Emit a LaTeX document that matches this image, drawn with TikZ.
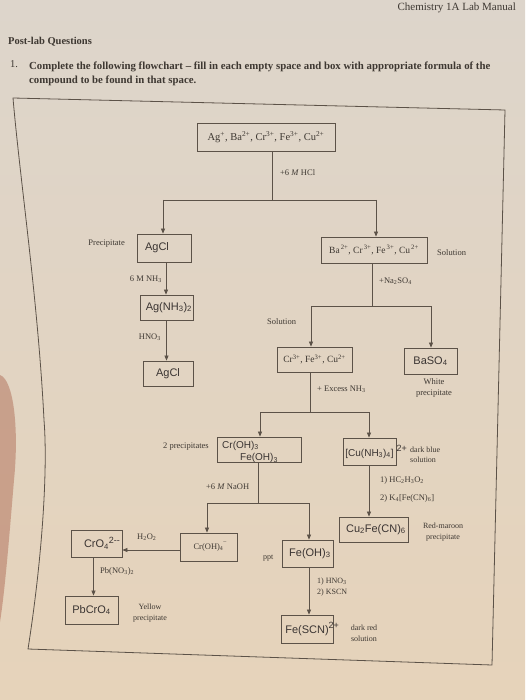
\documentclass[tikz,border=0pt]{standalone}
\usepackage{fontspec}
\setmainfont{Liberation Serif}
\newfontfamily\hw{Liberation Sans}
\usetikzlibrary{arrows.meta,calc}
\definecolor{paperhi}{RGB}{221,213,203}
\definecolor{paperlo}{RGB}{230,211,186}
\definecolor{ink}{RGB}{62,56,50}
\definecolor{lin}{RGB}{92,82,72}
\definecolor{pen}{RGB}{58,52,50}
\definecolor{finger}{RGB}{180,118,96}
\begin{document}
\begin{tikzpicture}[x=1pt,y=-1pt,
  box/.style={draw=lin, line width=0.8pt, inner sep=0pt},
  hand/.style={text=pen, font=\hw\fontsize{11}{12}\selectfont},
  prt/.style={text=ink, font=\fontsize{10.5}{12}\selectfont},
  lbl/.style={text=ink, font=\fontsize{8.5}{10.5}\selectfont, inner sep=0pt, align=left},
  clbl/.style={text=ink, font=\fontsize{8.5}{10.5}\selectfont, inner sep=0pt, align=center},
  ln/.style={draw=lin, line width=0.7pt},
  arr/.style={draw=lin, line width=0.7pt, -{Triangle[length=5pt,width=4pt]}}]
% paper
\useasboundingbox (0,0) rectangle (525,700);
\shade[top color=paperhi, bottom color=paperlo] (0,0) rectangle (525,700);
\fill[finger, opacity=0.55] (0,375) .. controls (14,380) and (19,430) .. (14,480) .. controls (9,540) and (5,590) .. (0,622) -- cycle;
% header
\node[anchor=east, text=ink, font=\fontsize{11}{12}\selectfont, inner sep=0pt] (hdr) at (516,8) {Chemistry 1A Lab Manual};
\node[anchor=west, text=ink, font=\bfseries\fontsize{10.5}{12}\selectfont, inner sep=0pt] (pq) at (8,42) {Post-lab Questions};
\node[anchor=west, text=ink, font=\fontsize{10.5}{12}\selectfont, inner sep=0pt] (qn) at (10,64) {1.};
\node[anchor=west, text=ink, font=\bfseries\fontsize{10.8}{12}\selectfont, inner sep=0pt] (qt1) at (29,67)
  {Complete the following flowchart -- fill in each empty space and box with appropriate formula of the};
\node[anchor=west, text=ink, font=\bfseries\fontsize{10.8}{12}\selectfont, inner sep=0pt] (qt2) at (29,81)
  {compound to be found in that space.};
% frame
\draw[lin, line width=0.8pt] (13,98) -- (505,110) -- (492,665) -- (28,649)
  .. controls (42,560) and (48,470) .. (44,420) .. controls (38,300) and (20,180) .. (13,98) -- cycle;
% boxes
\node[box, prt, minimum width=138pt, minimum height=28pt] (top) at (266,137)
  {Ag\textsuperscript{+}, Ba\textsuperscript{2+}, Cr\textsuperscript{3+}, Fe\textsuperscript{3+}, Cu\textsuperscript{2+}};
\node[box, hand, minimum width=54pt, minimum height=28pt] (agcl1) at (164,248) {\hspace*{-14pt}AgCl};
\node[box, hand, minimum width=53pt, minimum height=25pt] (agnh) at (166.5,307.5) {Ag(NH\textsubscript{3})\rlap{\textsubscript{2}}};
\node[box, hand, minimum width=50pt, minimum height=25pt] (agcl2) at (168,373.5) {AgCl};
\node[box, prt, font=\fontsize{9.5}{11}\selectfont, minimum width=106pt, minimum height=26pt] (ba) at (374,250)
  {Ba\textsuperscript{\,2+}, Cr\textsuperscript{\,3+}, Fe\textsuperscript{\,3+}, Cu\textsuperscript{\,2+}};
\node[box, prt, font=\fontsize{9.5}{11}\selectfont, minimum width=75pt, minimum height=25pt] (crfecu) at (314.5,359.5)
  {Cr\textsuperscript{3+}, Fe\textsuperscript{3+}, Cu\textsuperscript{2+}};
\node[box, hand, minimum width=53pt, minimum height=26pt] (baso4) at (430.5,361) {BaSO\textsubscript{4}};
\node[box, minimum width=84pt, minimum height=25pt] (croh3) at (259,449.5) {};
\node[hand, font=\hw\fontsize{10}{11}\selectfont, anchor=west, inner sep=0pt] (croh3a) at (222,445.5) {Cr(OH)\textsubscript{3}};
\node[hand, font=\hw\fontsize{10}{11}\selectfont, anchor=west, inner sep=0pt] (croh3b) at (240,458) {Fe(OH)\textsubscript{3}};
\node[box, hand, font=\hw\fontsize{10}{12}\selectfont, minimum width=53pt, minimum height=27pt] (cunh) at (369.5,451.5)
  {[Cu(NH\textsubscript{3})\textsubscript{4}]\rlap{\raisebox{5pt}{\fontsize{9}{10}\selectfont\hspace{3pt}2+}}};
\node[box, hand, minimum width=69pt, minimum height=25pt] (cufe) at (373.5,529.5) {Cu\textsubscript{2}Fe(CN)\rlap{\textsubscript{6}}};
\node[box, prt, font=\fontsize{8.5}{10}\selectfont, minimum width=57pt, minimum height=28pt] (croh4) at (208.5,547) {Cr(OH)\textsubscript{4}\rlap{\raisebox{3pt}{\textsuperscript{--}}}};
\node[box, hand, minimum width=51pt, minimum height=27pt] (feoh) at (307.5,553.5) {Fe(OH)\rlap{\textsubscript{3}}};
\node[box, hand, minimum width=51pt, minimum height=27pt] (cro4) at (96.5,543.5) {CrO\textsubscript{4}\rlap{\raisebox{4pt}{\fontsize{9}{10}\selectfont 2--}}};
\node[box, hand, minimum width=53pt, minimum height=28pt] (pbcro4) at (91.5,610) {PbCrO\textsubscript{4}};
\node[box, hand, minimum width=52pt, minimum height=28pt] (fescn) at (307,629) {Fe(SCN)\rlap{\raisebox{5pt}{\fontsize{9}{10}\selectfont 2+}}};
% junctions
\coordinate (j1) at (272,200); \coordinate (j1l) at (163,200); \coordinate (j1r) at (376,200);
\coordinate (j2) at (372,306); \coordinate (j2l) at (311,306); \coordinate (j2r) at (431,306);
\coordinate (j3) at (310,412); \coordinate (j3l) at (260,412); \coordinate (j3r) at (369,412);
\coordinate (j4) at (258,503); \coordinate (j4l) at (207,503); \coordinate (j4r) at (309,503);
% connectors
\draw[ln] (top.south -| j1) -- (j1);
\draw[ln] (j1l) -- (j1r);
\draw[arr] (j1l) -- (agcl1.north -| j1l);
\draw[arr] (j1r) -- (ba.north -| j1r);
\draw[arr] ([xshift=2pt]agcl1.south) -- ([xshift=2pt]agcl1.south |- agnh.north);
\draw[arr] (agnh.south) -- (agnh.south |- agcl2.north);
\draw[ln] (ba.south -| j2) -- (j2);
\draw[ln] (j2l) -- (j2r);
\draw[arr] (j2l) -- (crfecu.north -| j2l);
\draw[arr] (j2r) -- (baso4.north -| j2r);
\draw[ln] (crfecu.south -| j3) -- (j3);
\draw[ln] (j3l) -- (j3r);
\draw[arr] (j3l) -- (croh3.north -| j3l);
\draw[arr] (j3r) -- (cunh.north -| j3r);
\draw[ln] (croh3.south -| j4) -- (j4);
\draw[ln] (j4l) -- (j4r);
\draw[arr] (j4l) -- (croh4.north -| j4l);
\draw[arr] (j4r) -- (feoh.north -| j4r);
\draw[arr] (cunh.south -| j3r) -- (cufe.north -| j3r);
\draw[arr] ([yshift=-3pt]croh4.west) -- ([yshift=-3pt]croh4.west -| cro4.east);
\draw[arr] ([xshift=-3pt]cro4.south) -- ([xshift=-3pt]cro4.south |- pbcro4.north);
\draw[arr] (feoh.south -| j4r) -- (fescn.north -| j4r);
% labels
\node[lbl, anchor=west] (l1) at (280,173) {+6 \textit{M} HCl};
\node[lbl, anchor=east] (l2) at (125,244) {Precipitate};
\node[lbl, anchor=west] (l3) at (437,253) {Solution};
\node[lbl, anchor=east] (l4) at (162,279) {6 M NH\textsubscript{3}};
\node[lbl, anchor=east] (l5) at (161,337) {HNO\textsubscript{3}};
\node[lbl, anchor=west] (l6) at (379,281) {+Na\textsubscript{2}SO\textsubscript{4}};
\node[lbl, anchor=west] (l7) at (267,322) {Solution};
\node[lbl, anchor=west] (l8) at (317,389) {+ Excess NH\textsubscript{3}};
\node[clbl] (l9) at (434,388) {White\\precipitate};
\node[lbl, anchor=west] (l10) at (163,447) {2 precipitates};
\node[lbl, anchor=west] (l11) at (206,487) {+6 \textit{M} NaOH};
\node[lbl, anchor=west, font=\fontsize{8}{10}\selectfont] (l12) at (410,455) {dark blue\\solution};
\node[lbl, anchor=west] (l13) at (380,480) {1) HC\textsubscript{2}H\textsubscript{3}O\textsubscript{2}};
\node[lbl, anchor=west] (l14) at (380,498) {2) K\textsubscript{4}[Fe(CN)\textsubscript{6}]};
\node[clbl, font=\fontsize{8}{10.5}\selectfont] (l15) at (443,532) {Red-maroon\\precipitate};
\node[lbl, anchor=west] (l16) at (137,537) {H\textsubscript{2}O\textsubscript{2}};
\node[lbl, anchor=west, font=\fontsize{8}{10}\selectfont] (l17) at (263,558) {ppt};
\node[lbl, anchor=west] (l18) at (100,571) {Pb(NO\textsubscript{3})\textsubscript{2}};
\node[clbl, font=\fontsize{8}{11}\selectfont] (l19) at (150,613) {Yellow\\precipitate};
\node[lbl, anchor=west, font=\fontsize{8}{11}\selectfont] (l20) at (317,587) {1) HNO\textsubscript{3}\\2) KSCN};
\node[clbl, font=\fontsize{8}{11}\selectfont] (l21) at (364,633) {dark red\\solution};
\end{tikzpicture}
\end{document}
